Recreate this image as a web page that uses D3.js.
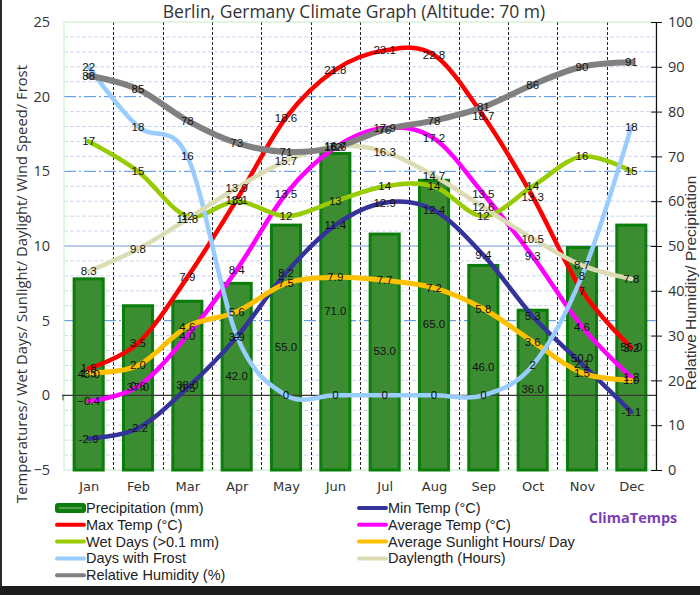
<!DOCTYPE html>
<html><head><meta charset="utf-8">
<script src="https://cdn.jsdelivr.net/npm/d3@7"></script>
<style>html,body{margin:0;padding:0;background:#fff;}svg{display:block;}</style>
</head><body>
<svg id="chart" width="700" height="595"></svg>
<script>
const months = ["Jan","Feb","Mar","Apr","May","Jun","Jul","Aug","Sep","Oct","Nov","Dec"];
const precipitation = [43,37,38,42,55,71,53,65,46,36,50,55];
const maxTemp = [1.8,3.5,7.9,13.1,18.6,21.8,23.1,22.8,18.7,13.3,7,3.2];
const minTemp = [-2.9,-2.2,0.5,3.9,8.2,11.4,12.9,12.4,9.4,5.3,2.1,-1.1];
const avgTemp = [-0.4,0.6,4.0,8.4,13.5,16.6,17.9,17.2,13.5,9.3,4.6,1.2];
const wetDays = [17,15,12,13,12,13,14,14,12,14,16,15];
const sunlight = [1.5,2.0,4.6,5.6,7.5,7.9,7.7,7.2,5.8,3.6,1.5,1.0];
const frostDays = [22,18,16,4,0,0,0,0,0,2,8,18];
const daylength = [8.3,9.8,11.8,13.9,15.7,16.7,16.3,14.7,12.6,10.5,8.7,7.8];
const humidity = [88,85,78,73,71,72,76,78,81,86,90,91];
const leftTicks = [-5,0,5,10,15,20,25];
const rightTicks = [0,10,20,30,40,50,60,70,80,90,100];

const svg = d3.select("#chart");
const L = 64, R = 656, T = 22, B = 470;

// frame
svg.append("rect").attr("x",0).attr("y",0).attr("width",2).attr("height",595).attr("fill","#2a2a2a");
svg.append("rect").attr("x",0).attr("y",586).attr("width",700).attr("height",9).attr("fill","#1c1c1c");

const xBand = d3.scaleBand().domain(months).range([L,R]).paddingInner(0.35).paddingOuter(0.175);
const xPt = d3.scalePoint().domain(months).range([L,R]).padding(0.5);
const yL = d3.scaleLinear().domain([-5,25]).range([B,T]);
const yR = d3.scaleLinear().domain([0,100]).range([B,T]);

// gridlines
const g = svg.append("g");
for (let v = -4; v <= 24; v++) {
  if (v % 5 === 0) continue;
  g.append("line").attr("x1",L).attr("x2",R).attr("y1",yL(v)).attr("y2",yL(v))
    .attr("stroke","#c8d8ee").attr("stroke-width",1).attr("stroke-dasharray","4,2");
}
[5,15,20].forEach(v=>{
  g.append("line").attr("x1",L).attr("x2",R).attr("y1",yL(v)).attr("y2",yL(v))
    .attr("stroke","#4f8fe0").attr("stroke-width",1).attr("stroke-dasharray","12,3,2,3");
});
g.append("line").attr("x1",L).attr("x2",R).attr("y1",yL(10)).attr("y2",yL(10))
  .attr("stroke","#6f9ad6").attr("stroke-width",1);
// month separators
months.slice(1).forEach((m,i)=>{
  const x = Math.round(L + xBand.step()*(i+1)) + 0.5;
  g.append("line").attr("x1",x).attr("x2",x).attr("y1",T).attr("y2",B)
    .attr("stroke","#222").attr("stroke-width",1).attr("stroke-dasharray","3,2");
});
// plot border
svg.append("rect").attr("x",L).attr("y",T).attr("width",R-L).attr("height",B-T)
  .attr("fill","none").attr("stroke","#c4eec4").attr("stroke-width",1);

// bars
svg.append("g").selectAll("rect").data(precipitation).join("rect")
  .attr("x",(d,i)=>xBand(months[i])+1.5)
  .attr("width",xBand.bandwidth()-3)
  .attr("y",d=>yR(d)+1.5)
  .attr("height",d=>yR(0)-yR(d)-1.5)
  .attr("fill","#3c8c32").attr("stroke","#0a7d0a").attr("stroke-width",3);

// zero line
svg.append("line").attr("x1",L-2).attr("x2",R).attr("y1",yL(0)).attr("y2",yL(0))
  .attr("stroke","#3a3a3a").attr("stroke-width",1.3);
svg.append("line").attr("x1",L-1).attr("x2",L-1).attr("y1",yL(0)).attr("y2",yL(0)+5)
  .attr("stroke","#3a3a3a").attr("stroke-width",1);

// right axis
const ra = svg.append("g").attr("transform",`translate(${R},0)`)
  .call(d3.axisRight(yR).tickValues(rightTicks).tickSize(6).tickPadding(6));
ra.select(".domain").attr("stroke","#111").attr("stroke-width",1.2);
ra.selectAll(".tick line").attr("stroke","#111").attr("x1",-5);
ra.selectAll("text").attr("font-family","Open Sans").attr("font-size","14.5px").attr("fill","#333");

// left axis labels
const la = svg.append("g").attr("transform",`translate(${L},0)`)
  .call(d3.axisLeft(yL).tickValues(leftTicks).tickSize(0).tickPadding(14));
la.select(".domain").remove();
la.selectAll("text").attr("font-family","Open Sans").attr("font-size","14.5px").attr("fill","#333");

// x labels
const xa = svg.append("g").attr("transform",`translate(0,${B})`)
  .call(d3.axisBottom(xPt).tickSize(0).tickPadding(12));
xa.select(".domain").remove();
xa.selectAll("text").attr("font-family","DejaVu Sans").attr("font-size","13px").attr("fill","#333");

// lines
const curve = d3.curveCardinal.tension(0);
const series = [
  {vals:maxTemp, y:yL, color:"#ff0000", w:4.5, fmt:v=>String(v)},
  {vals:minTemp, y:yL, color:"#333399", w:4.5, fmt:v=>String(v)},
  {vals:avgTemp, y:yL, color:"#ff00ff", w:4.5, fmt:d3.format(".1f")},
  {vals:wetDays, y:yL, color:"#99cc00", w:4.5, fmt:v=>String(v)},
  {vals:sunlight, y:yL, color:"#ffc000", w:5, fmt:d3.format(".1f")},
  {vals:frostDays, y:yL, color:"#99ccff", w:4.5, fmt:v=>String(v)},
  {vals:daylength, y:yL, color:"#dcdcb4", w:4.5, fmt:v=>String(v)},
  {vals:humidity, y:yR, color:"#808080", w:6, fmt:v=>String(v)}
];
const lg = svg.append("g").attr("fill","none").attr("stroke-linecap","round").attr("stroke-linejoin","round");
series.forEach(s=>{
  const line = d3.line().x((d,i)=>xPt(months[i])).y(d=>s.y(d)).curve(curve);
  lg.append("path").datum(s.vals).attr("d",line).attr("stroke",s.color).attr("stroke-width",s.w);
});

// data labels
const lab = svg.append("g").attr("font-family","Liberation Sans, Arial").attr("font-size","11.5px")
  .attr("fill","#111").attr("text-anchor","middle").attr("dominant-baseline","central");
lab.selectAll(".p").data(precipitation).join("text").attr("class","p")
  .attr("x",(d,i)=>xPt(months[i])).attr("y",d=>(yR(d)+yR(0))/2).text(d=>d3.format(".1f")(d));
series.forEach(s=>{
  lab.append("g").selectAll("text").data(s.vals).join("text")
    .attr("x",(d,i)=>xPt(months[i])).attr("y",d=>s.y(d)).text(d=>s.fmt(d));
});

// title
svg.append("text").attr("x",354).attr("y",18).attr("text-anchor","middle")
  .attr("font-family","Open Sans").attr("font-size","17.5px").attr("fill","#333")
  .text("Berlin, Germany Climate Graph (Altitude: 70 m)");

// axis titles
svg.append("text").attr("transform","translate(21,284) rotate(-90)").attr("text-anchor","middle")
  .attr("dominant-baseline","central")
  .attr("font-family","Open Sans").attr("font-size","14.8px").attr("fill","#333")
  .text("Temperatures/ Wet Days/ Sunlight/ Daylight/ Wind Speed/ Frost");
svg.append("text").attr("transform","translate(690,283) rotate(-90)").attr("text-anchor","middle")
  .attr("dominant-baseline","central")
  .attr("font-family","Liberation Sans").attr("font-size","15.5px").attr("fill","#333")
  .text("Relative Humidity/ Precipitation");

// legend
const legendItems = [
  {name:"Precipitation (mm)", color:"#0a7d0a", bar:true},
  {name:"Min Temp (\u00B0C)", color:"#333399"},
  {name:"Max Temp (\u00B0C)", color:"#ff0000"},
  {name:"Average Temp (\u00B0C)", color:"#ff00ff"},
  {name:"Wet Days (>0.1 mm)", color:"#99cc00"},
  {name:"Average Sunlight Hours/ Day", color:"#ffc000"},
  {name:"Days with Frost", color:"#99ccff"},
  {name:"Daylength (Hours)", color:"#dcdcb4"},
  {name:"Relative Humidity (%)", color:"#808080"}
];
const leg = svg.append("g");
legendItems.forEach((it,i)=>{
  const col = i%2, row = Math.floor(i/2);
  const x0 = col===0 ? 55 : 357, y0 = 508 + row*16.8;
  if (it.bar) {
    leg.append("rect").attr("x",x0).attr("y",y0-5).attr("width",31).attr("height",10).attr("rx",3)
      .attr("fill","#0a7d0a");
    leg.append("line").attr("x1",x0+4).attr("x2",x0+27).attr("y1",y0).attr("y2",y0)
      .attr("stroke","#5a9a50").attr("stroke-width",2);
  } else {
    leg.append("line").attr("x1",x0+2).attr("x2",x0+29).attr("y1",y0).attr("y2",y0)
      .attr("stroke",it.color).attr("stroke-width",4).attr("stroke-linecap","round");
  }
  leg.append("text").attr("x",x0+31).attr("y",y0).attr("dominant-baseline","central")
    .attr("font-family","Liberation Sans").attr("font-size","14.5px").attr("fill","#222")
    .text(it.name);
});
svg.append("text").attr("x",633).attr("y",517).attr("text-anchor","middle").attr("dominant-baseline","central")
  .attr("font-family","Open Sans").attr("font-weight","bold").attr("font-size","14.5px").attr("fill","#7b3fb5")
  .text("ClimaTemps");
</script>
</body></html>
